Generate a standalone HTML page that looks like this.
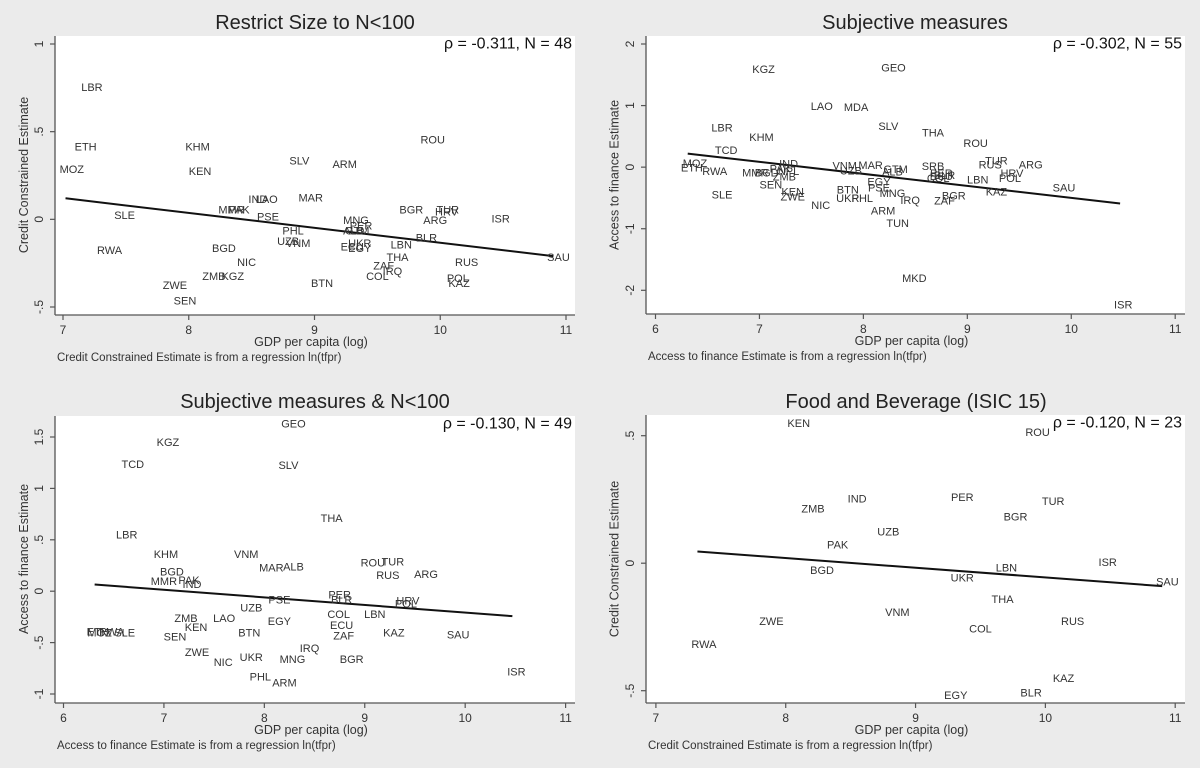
<!DOCTYPE html>
<html><head><meta charset="utf-8"><style>
html,body{margin:0;padding:0;background:#ebebeb;}
svg{display:block;font-family:"Liberation Sans",Arial,sans-serif;}
</style></head><body>
<svg id="chart" width="1200" height="768" viewBox="0 0 1200 768"></svg>
<script>
// Panel 1: Restrict Size to N<100
const p1Codes=["LBR","ETH","MOZ","KHM","KEN","SLV","ARM","ROU","LAO","IND","MAR","MMR","PAK","SLE","PSE","BGR","TUR","HRV","ARG","ISR","MNG","PER","ALB","GTM","PHL","UZB","VNM","UKR","ECU","EGY","LBN","BLR","RWA","BGD","NIC","THA","ZAF","IRQ","RUS","COL","POL","KAZ","SAU","ZMB","KGZ","ZWE","BTN","SEN"];
const p1X=[7.23,7.18,7.07,8.07,8.09,8.88,9.24,9.94,8.62,8.55,8.97,8.34,8.40,7.49,8.63,9.77,10.06,10.05,9.96,10.48,9.33,9.37,9.31,9.34,8.83,8.79,8.87,9.36,9.30,9.36,9.69,9.89,7.37,8.28,8.46,9.66,9.55,9.62,10.21,9.50,10.14,10.15,10.94,8.20,8.35,7.89,9.06,7.97];
const p1Y=[0.75,0.41,0.28,0.41,0.27,0.33,0.31,0.45,0.11,0.11,0.12,0.05,0.05,0.02,0.01,0.05,0.05,0.04,-0.01,0,-0.01,-0.04,-0.07,-0.07,-0.07,-0.13,-0.14,-0.14,-0.16,-0.17,-0.15,-0.11,-0.18,-0.17,-0.25,-0.22,-0.27,-0.30,-0.25,-0.33,-0.34,-0.37,-0.22,-0.33,-0.33,-0.38,-0.37,-0.47];
const p1FitX=[7.02,10.9];
const p1FitY=[0.12,-0.21];
const p1XTicks=[7,8,9,10,11];
const p1YTicks=[1,0.5,0,-0.5];
const p1YTickLabels=["1",".5","0","-.5"];

// Panel 2: Subjective measures
const p2Codes=["KGZ","GEO","LAO","MDA","LBR","SLV","THA","KHM","ROU","TCD","TUR","RUS","ARG","MOZ","ETH","RWA","IND","MMR","BGD","PAK","NPL","ZMB","SEN","KEN","ZWE","SLE","NIC","VNM","UZB","MAR","GTM","ALB","EGY","PSE","BTN","UKR","PHL","MNG","IRQ","ARM","TUN","SRB","PER","ECU","COL","BLR","BGR","ZAF","LBN","HRV","POL","KAZ","SAU","MKD","ISR"];
const p2X=[7.04,8.29,7.60,7.93,6.64,8.24,8.67,7.02,9.08,6.68,9.28,9.22,9.61,6.38,6.35,6.57,7.28,6.96,7.07,7.20,7.28,7.24,7.11,7.32,7.32,6.64,7.59,7.82,7.88,8.07,8.31,8.28,8.15,8.15,7.85,7.85,7.99,8.28,8.45,8.19,8.33,8.67,8.75,8.75,8.72,8.78,8.87,8.78,9.10,9.43,9.41,9.28,9.93,8.49,10.50];
const p2Y=[1.58,1.60,0.98,0.96,0.63,0.65,0.55,0.47,0.38,0.26,0.09,0.03,0.03,0.05,-0.02,-0.08,0.04,-0.10,-0.10,-0.04,-0.08,-0.17,-0.30,-0.41,-0.49,-0.46,-0.63,0.01,-0.07,0.02,-0.05,-0.09,-0.25,-0.35,-0.38,-0.52,-0.52,-0.44,-0.55,-0.72,-0.92,0.0,-0.11,-0.16,-0.19,-0.14,-0.48,-0.56,-0.22,-0.11,-0.19,-0.41,-0.35,-1.82,-2.25];
const p2FitX=[6.31,10.47];
const p2FitY=[0.22,-0.59];
const p2XTicks=[6,7,8,9,10,11];
const p2YTicks=[2,1,0,-1,-2];
const p2YTickLabels=["2","1","0","-1","-2"];

// Panel 3: Subjective measures & N<100
const p3Codes=["GEO","KGZ","TCD","SLV","THA","LBR","KHM","VNM","MAR","ALB","ROU","TUR","RUS","ARG","BGD","MMR","PAK","IND","PSE","PER","BLR","HRV","POL","UZB","COL","LBN","ZMB","LAO","EGY","ECU","KEN","ETH","MOZ","RWA","SLE","BTN","KAZ","SAU","ZAF","SEN","IRQ","ZWE","UKR","MNG","BGR","NIC","ISR","PHL","ARM"];
const p3X=[8.29,7.04,6.69,8.24,8.67,6.63,7.02,7.82,8.07,8.29,9.08,9.28,9.23,9.61,7.08,7.0,7.25,7.28,8.15,8.75,8.77,9.43,9.41,7.87,8.74,9.10,7.22,7.6,8.15,8.77,7.32,6.34,6.36,6.48,6.61,7.85,9.29,9.93,8.79,7.11,8.45,7.33,7.87,8.28,8.87,7.59,10.51,7.96,8.2];
const p3Y=[1.62,1.44,1.23,1.22,0.70,0.54,0.35,0.35,0.22,0.23,0.27,0.28,0.15,0.16,0.18,0.09,0.10,0.06,-0.09,-0.04,-0.09,-0.10,-0.13,-0.17,-0.23,-0.23,-0.27,-0.27,-0.30,-0.34,-0.36,-0.40,-0.41,-0.40,-0.41,-0.41,-0.41,-0.43,-0.44,-0.45,-0.56,-0.60,-0.65,-0.67,-0.67,-0.70,-0.79,-0.84,-0.90];
const p3FitX=[6.31,10.47];
const p3FitY=[0.065,-0.243];
const p3XTicks=[6,7,8,9,10,11];
const p3YTicks=[1.5,1,0.5,0,-0.5,-1];
const p3YTickLabels=["1.5","1",".5","0","-.5","-1"];

// Panel 4: Food and Beverage (ISIC 15)
const p4Codes=["KEN","ROU","IND","PER","TUR","ZMB","BGR","UZB","PAK","ISR","BGD","LBN","UKR","SAU","THA","VNM","ZWE","RUS","COL","RWA","KAZ","BLR","EGY"];
const p4X=[8.10,9.94,8.55,9.36,10.06,8.21,9.77,8.79,8.40,10.48,8.28,9.70,9.36,10.94,9.67,8.86,7.89,10.21,9.50,7.37,10.14,9.89,9.31];
const p4Y=[0.545,0.51,0.25,0.255,0.24,0.21,0.18,0.12,0.07,0.0,-0.03,-0.02,-0.06,-0.075,-0.145,-0.196,-0.23,-0.23,-0.26,-0.32,-0.455,-0.51,-0.52];
const p4FitX=[7.32,10.90];
const p4FitY=[0.046,-0.09];
const p4XTicks=[7,8,9,10,11];
const p4YTicks=[0.5,0,-0.5];
const p4YTickLabels=[".5","0","-.5"];

const NS="http://www.w3.org/2000/svg";
const svg=document.getElementById('chart');
function mk(tag,attrs,parent){const e=document.createElementNS(NS,tag);for(const k in attrs)e.setAttribute(k,attrs[k]);(parent||svg).appendChild(e);return e;}

function panel(cfg){
  const g=mk('g',{});
  
  
  const sx=v=>cfg.x0p+(v-cfg.x0v)*(cfg.x1p-cfg.x0p)/(cfg.x1v-cfg.x0v);
  const sy=v=>cfg.y0p+(v-cfg.y0v)*(cfg.y1p-cfg.y0p)/(cfg.y1v-cfg.y0v);
  const bg=mk('rect',{x:cfg.L,y:cfg.T,width:cfg.R-cfg.L,height:cfg.B-cfg.T,fill:'#ffffff'},g);
  
  
  const t=mk('text',{x:cfg.tx,y:cfg.ty,'font-size':20,'text-anchor':'middle','dominant-baseline':'central',fill:'#222'},g);
  t.textContent=cfg.title;
  
  
  const ya=mk('line',{x1:cfg.L,y1:cfg.T,x2:cfg.L,y2:cfg.B,stroke:'#555','stroke-width':1.3},g);
  
  
  const xa=mk('line',{x1:cfg.L,y1:cfg.B,x2:cfg.R,y2:cfg.B,stroke:'#555','stroke-width':1.3},g);
  
  
  cfg.xt.forEach(v=>{
    const x=sx(v);
    mk('line',{x1:x,y1:cfg.B,x2:x,y2:cfg.B+5,stroke:'#555','stroke-width':1.2},g);
    const tl=mk('text',{x:x,y:cfg.B+15,'font-size':12,'text-anchor':'middle','dominant-baseline':'central',fill:'#333'},g);
    tl.textContent=String(v);
    
    
  });
  cfg.yt.forEach((v,i)=>{
    const y=sy(v);
    mk('line',{x1:cfg.L-5,y1:y,x2:cfg.L,y2:y,stroke:'#555','stroke-width':1.2},g);
    const tl=mk('text',{x:cfg.L-16,y:y,'font-size':12,'text-anchor':'middle','dominant-baseline':'central',fill:'#333',transform:`rotate(-90 ${cfg.L-16} ${y})`},g);
    tl.textContent=cfg.ytl[i];
    
    
  });
  const yt=mk('text',{x:cfg.ytx,y:cfg.yty,'font-size':12.5,'text-anchor':'middle','dominant-baseline':'central',fill:'#333',transform:`rotate(-90 ${cfg.ytx} ${cfg.yty})`},g);
  yt.textContent=cfg.ytitle;
  
  
  const xt=mk('text',{x:(cfg.L+cfg.R)/2-4,y:cfg.B+27,'font-size':12.5,'text-anchor':'middle','dominant-baseline':'central',fill:'#333'},g);
  xt.textContent='GDP per capita (log)';
  
  
  const nt=mk('text',{x:cfg.L+2,y:cfg.B+43,'font-size':11.5,'dominant-baseline':'central',fill:'#333'},g);
  nt.textContent=cfg.note;
  
  
  const fl=mk('line',{x1:sx(cfg.fx[0]),y1:sy(cfg.fy[0]),x2:sx(cfg.fx[1]),y2:sy(cfg.fy[1]),stroke:'#111','stroke-width':2},g);
  
  
  cfg.codes.forEach((c,i)=>{
    const l=mk('text',{x:sx(cfg.xs[i]),y:sy(cfg.ys[i]),'font-size':11,'text-anchor':'middle','dominant-baseline':'central',fill:'#333'},g);
    l.textContent=c;
    
    
  });
  const r=mk('text',{x:cfg.R-3,y:cfg.T+8,'font-size':16,'text-anchor':'end','dominant-baseline':'central',fill:'#111'},g);
  r.textContent=cfg.rho;
  
  
}

panel({name:'panel-restrict-size',title:'Restrict Size to N<100',tx:315,ty:23,L:55,R:575,T:36,B:315,
  x0v:7,x1v:11,x0p:63,x1p:566,y0v:1,y1v:-0.5,y0p:44,y1p:307,xt:p1XTicks,yt:p1YTicks,ytl:p1YTickLabels,
  ytx:24,yty:175,ytitle:'Credit Constrained Estimate',note:'Credit Constrained Estimate is from a regression ln(tfpr)',
  fx:p1FitX,fy:p1FitY,codes:p1Codes,xs:p1X,ys:p1Y,rho:'ρ = -0.311, N = 48'});
panel({name:'panel-subjective',title:'Subjective measures',tx:915,ty:23,L:646,R:1185,T:36,B:314,
  x0v:6,x1v:11,x0p:655.5,x1p:1175.2,y0v:2,y1v:-2,y0p:44,y1p:290.3,xt:p2XTicks,yt:p2YTicks,ytl:p2YTickLabels,
  ytx:614.5,yty:175,ytitle:'Access to finance Estimate',note:'Access to finance Estimate is from a regression ln(tfpr)',
  fx:p2FitX,fy:p2FitY,codes:p2Codes,xs:p2X,ys:p2Y,rho:'ρ = -0.302, N = 55'});
panel({name:'panel-subjective-n100',title:'Subjective measures & N<100',tx:315,ty:402,L:55,R:575,T:416,B:703,
  x0v:6,x1v:11,x0p:63.5,x1p:565.6,y0v:1.5,y1v:-1,y0p:437,y1p:694,xt:p3XTicks,yt:p3YTicks,ytl:p3YTickLabels,
  ytx:24,yty:559,ytitle:'Access to finance Estimate',note:'Access to finance Estimate is from a regression ln(tfpr)',
  fx:p3FitX,fy:p3FitY,codes:p3Codes,xs:p3X,ys:p3Y,rho:'ρ = -0.130, N = 49'});
panel({name:'panel-food-beverage',title:'Food and Beverage (ISIC 15)',tx:916,ty:402,L:646,R:1185,T:415,B:703,
  x0v:7,x1v:11,x0p:655.9,x1p:1175.2,y0v:0.5,y1v:-0.5,y0p:435.7,y1p:690.7,xt:p4XTicks,yt:p4YTicks,ytl:p4YTickLabels,
  ytx:614.5,yty:559,ytitle:'Credit Constrained Estimate',note:'Credit Constrained Estimate is from a regression ln(tfpr)',
  fx:p4FitX,fy:p4FitY,codes:p4Codes,xs:p4X,ys:p4Y,rho:'ρ = -0.120, N = 23'});
</script>
</body></html>
